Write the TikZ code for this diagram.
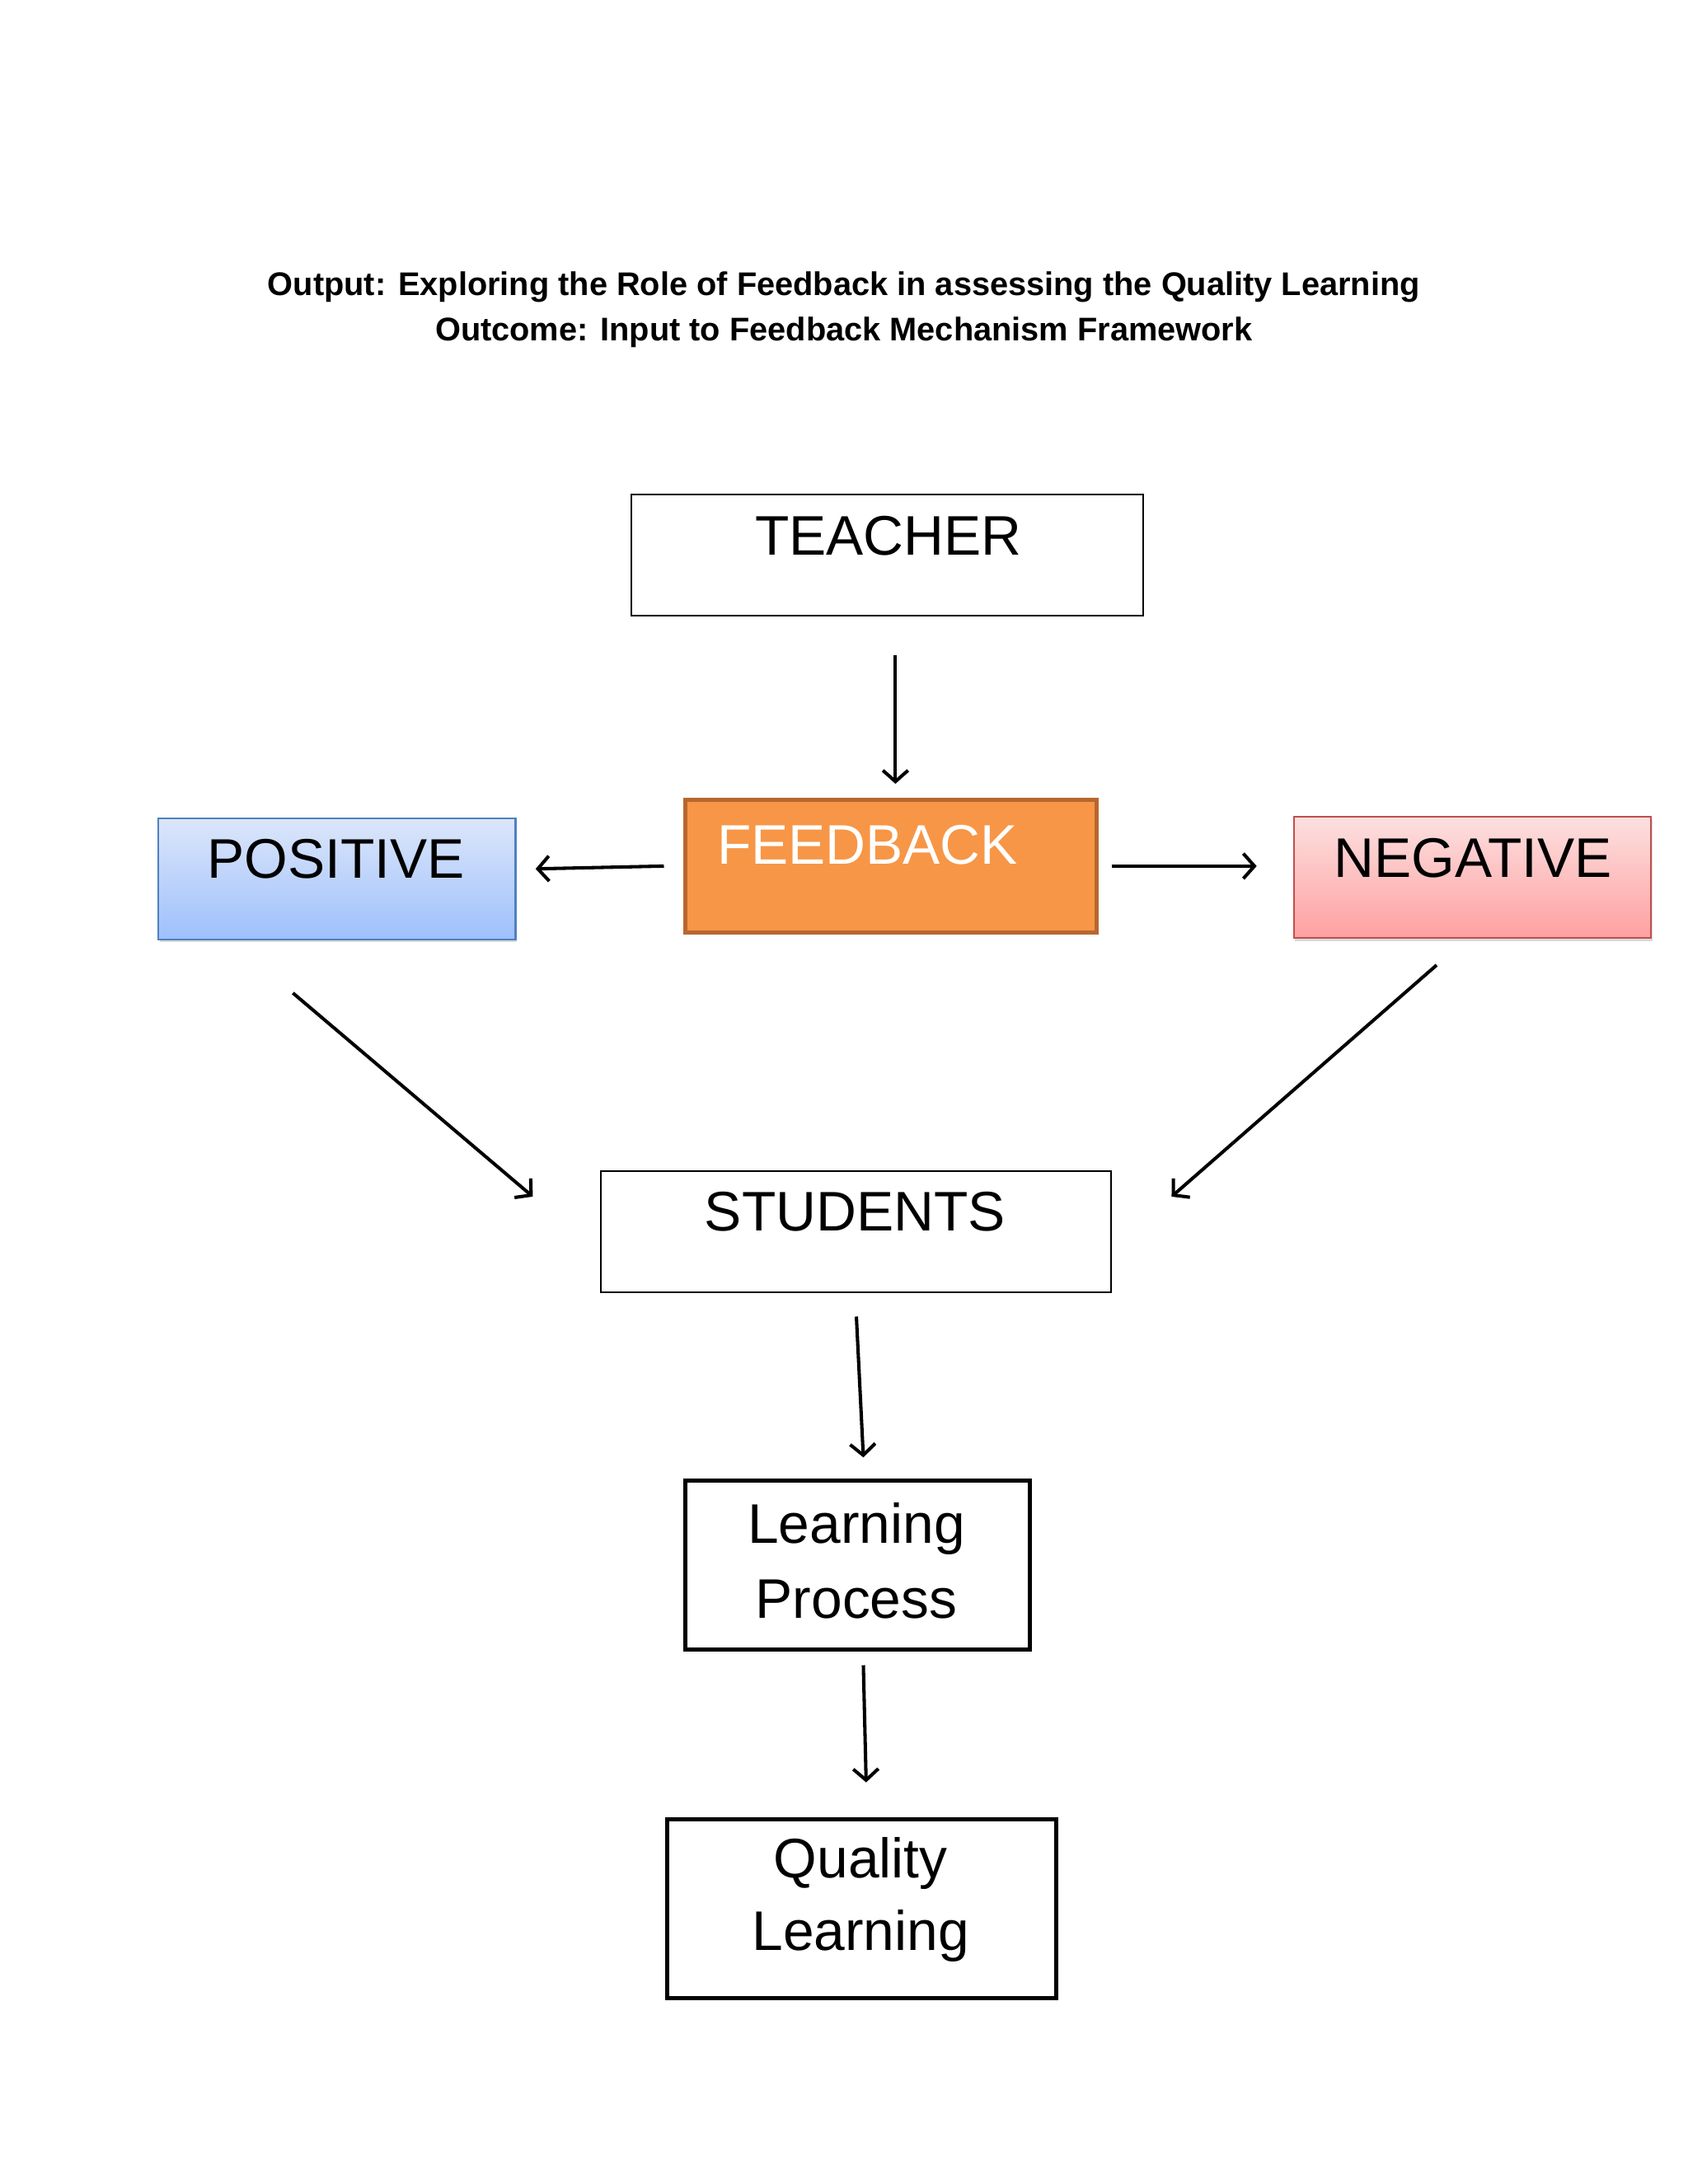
\documentclass[tikz,border=0pt]{standalone}
\usepackage{fontspec}
\setmainfont{Liberation Sans}
\usetikzlibrary{shadows,arrows.meta}
\definecolor{orfill}{HTML}{F79646}
\definecolor{ordraw}{HTML}{B8662F}
\definecolor{btop}{HTML}{DCE6FA}
\definecolor{bbot}{HTML}{9EC0FC}
\definecolor{bdraw}{HTML}{4F81BD}
\definecolor{rtop}{HTML}{FCE0E0}
\definecolor{rbot}{HTML}{FFA0A0}
\definecolor{rdraw}{HTML}{C0504D}
\begin{document}
\begin{tikzpicture}[x=1pt,y=-1pt,
  box/.style={draw=black,line width=1.3pt,inner sep=0pt,anchor=north west},
  big/.style={font=\fontsize{40}{44}\selectfont},
  arr/.style={line width=2.4pt,-{Straight Barb[length=8pt,width=18pt]}}]
\useasboundingbox (0,0) rectangle (1210,1566);
\node[font=\bfseries\fontsize{23.5}{32}\selectfont,align=center] (title) at (605,222)
 {Output: Exploring the Role of Feedback in assessing the Quality Learning\\Outcome: Input to Feedback Mechanism Framework};
% boxes
\node[box,minimum width=367pt,minimum height=87pt] (teacher) at (452,354) {};
\node[big] at (637,384) {TEACHER};
\node[box,draw=ordraw,fill=orfill,line width=3pt,minimum width=295pt,minimum height=95pt] (feedback) at (490,572) {};
\node[big,text=white] at (622,606) {FEEDBACK};
\node[box,draw=bdraw,top color=btop,bottom color=bbot,line width=1.3pt,minimum width=256pt,minimum height=87pt,drop shadow={opacity=0.3,shadow xshift=1pt,shadow yshift=-2pt}] (positive) at (113,586) {};
\node[big] at (241,616) {POSITIVE};
\node[box,draw=rdraw,top color=rtop,bottom color=rbot,line width=1.3pt,minimum width=256pt,minimum height=87pt,drop shadow={opacity=0.3,shadow xshift=1pt,shadow yshift=-2pt}] (negative) at (927,585) {};
\node[big] at (1056,615) {NEGATIVE};
\node[box,minimum width=366pt,minimum height=87pt] (students) at (430,839) {};
\node[big] at (613,869) {STUDENTS};
\node[box,line width=3pt,minimum width=247pt,minimum height=121pt] (lp) at (490,1060) {};
\node[align=center,font=\fontsize{40}{54}\selectfont] at (614,1119) {Learning\\Process};
\node[box,line width=3pt,minimum width=279pt,minimum height=128pt] (ql) at (477,1303) {};
\node[align=center,font=\fontsize{40}{52}\selectfont] at (617,1362) {Quality\\Learning};
% arrows
\coordinate (a1) at (642,470); \coordinate (b1) at (642,562);
\coordinate (a2) at (476,621); \coordinate (b2) at (384,623);
\coordinate (a3) at (797,621); \coordinate (b3) at (901,621);
\coordinate (a4) at (210,712); \coordinate (b4) at (382,858);
\coordinate (a5) at (1030,692); \coordinate (b5) at (840,858);
\coordinate (a6) at (614,944); \coordinate (b6) at (619,1045);
\coordinate (a7) at (619,1194); \coordinate (b7) at (621,1278);
\foreach \i in {1,...,7} \draw[arr] (a\i) -- (b\i);
\end{tikzpicture}
\end{document}
